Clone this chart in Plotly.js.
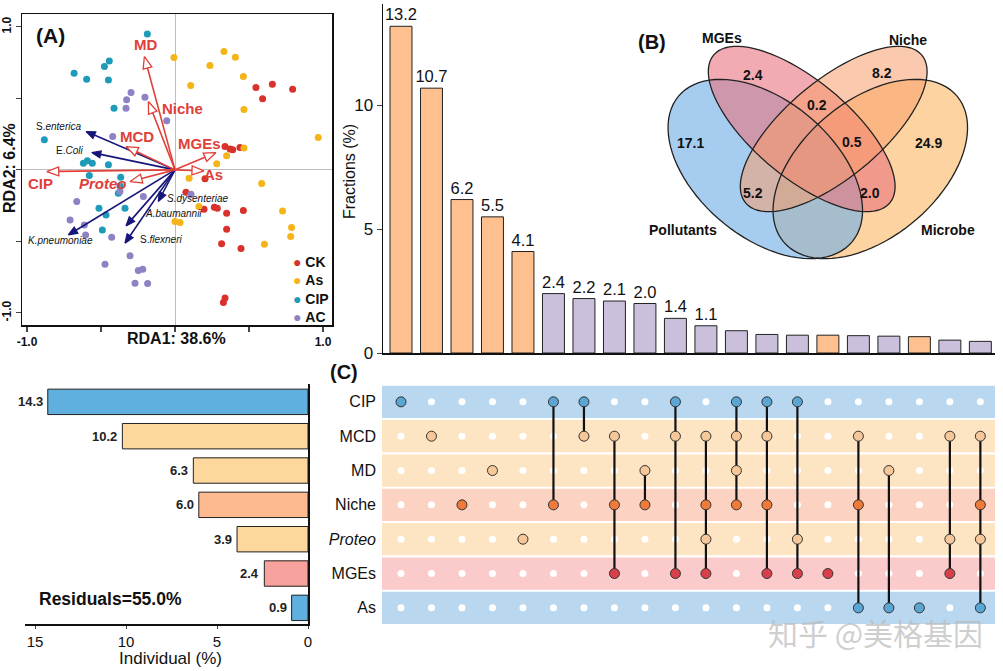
<!DOCTYPE html>
<html><head><meta charset="utf-8">
<script src="https://cdn.plot.ly/plotly-3.0.1.min.js"></script>
<style>html,body{margin:0;padding:0;background:#fff}#chart{width:1003px;height:671px}</style>
</head><body><div id="chart"></div>
<script>
// ================= DATA =================
// (A) RDA site scores
const ckX = [0.547,0.658,0.795,0.592,0.338,0.390,0.372,0.439,0.203,0.074,0.196,0.266,0.286,0.349,0.462,0.349,0.315,0.446,0.338,0.327];
const ckY = [0.576,0.599,0.564,0.497,0.163,0.140,0.145,0.156,-0.063,-0.156,-0.275,-0.261,-0.268,-0.303,-0.284,-0.415,-0.517,-0.550,-0.897,-0.928];
const asX = [-0.007,0.331,0.408,0.236,0.462,0.106,0.466,0.968,0.466,0.349,0.282,0.095,0.586,0.162,0.727,0.788,0.782,0.604,0.000,0.034];
const asY = [0.786,0.828,0.788,0.730,0.653,0.590,0.422,0.226,0.152,0.098,0.042,-0.058,-0.096,-0.256,-0.287,-0.403,-0.466,-0.520,-0.361,-0.368];
const cipX = [-0.187,-0.682,-0.597,-0.477,-0.444,-0.450,-0.412,-0.883,-0.619,-0.592,-0.559,-0.450,-0.579,-0.367,-0.383,-0.372,-0.514,-0.466,-0.338,-0.491];
const cipY = [0.951,0.676,0.634,0.723,0.762,0.629,0.431,0.210,0.047,0.063,0.047,0.035,-0.040,-0.051,-0.163,-0.112,-0.268,-0.315,-0.268,-0.420];
const acX = [-0.297,-0.327,-0.203,-0.331,-0.056,-0.421,-0.372,-0.214,0.108,-0.664,-0.709,-0.613,-0.604,-0.428,-0.304,-0.473,-0.248,-0.218,-0.270,-0.185];
const acY = [0.541,0.490,0.508,0.431,0.343,0.233,-0.152,-0.186,-0.170,-0.221,-0.350,-0.385,-0.455,-0.471,-0.601,-0.660,-0.704,-0.695,-0.793,-0.795];
const groupNames = ['CK','As','CIP','AC'];
// environmental / driver vectors
const envNames = ['MD','Niche','MCD','MGEs','As','CIP','<i>Proteo</i>'];
const envX = [-0.207,-0.180,-0.331,0.277,0.196,-0.867,-0.304];
const envY = [0.793,0.478,0.163,0.121,-0.007,-0.012,-0.082];
// pathogen vectors
const bacNames = ['S.<i>enterica</i>','E.<i>Coli</i>','<i>K.pneumoniae</i>','<i>A.baumannii</i>','S.<i>flexneri</i>','<i>S.dysenteriae</i>'];
const bacX = [-0.601,-0.563,-0.721,-0.331,-0.338,-0.113];
const bacY = [0.268,0.121,-0.455,-0.392,-0.513,-0.221];

// (C) upset data
const sets = ['CIP','MCD','MD','Niche','Proteo','MGEs','As'];
const setLabels = ['CIP','MCD','MD','Niche','<i>Proteo</i>','MGEs','As'];
const indivValues = [14.3,10.2,6.3,6.0,3.9,2.4,0.9];
const combos = [['CIP'],['MCD'],['Niche'],['MD'],['Proteo'],['CIP','Niche'],['CIP','MCD'],['MCD','Niche','MGEs'],['MD','Niche'],
  ['CIP','MCD','MGEs'],['MCD','Niche','Proteo','MGEs'],['CIP','MCD','MD','Niche'],['CIP','MCD','Niche','MGEs'],['CIP','Proteo','MGEs'],
  ['MGEs'],['MCD','Niche','As'],['MD','As'],['As'],['MCD','Proteo','MGEs'],['MCD','Niche','Proteo','As']];
const fracValues = [13.2,10.7,6.2,5.5,4.1,2.4,2.2,2.1,2.0,1.4,1.1,0.9,0.75,0.72,0.72,0.70,0.68,0.66,0.52,0.47];
const fracLabelCount = 11;
const residualText = 'Residuals=55.0%';

// (B) Venn
const vennSets = ['Pollutants','Microbe','MGEs','Niche'];
const vennValues = ['17.1','24.9','2.4','8.2','0.2','0.5','5.2','2.0'];

// ================= STYLE / LAYOUT =================
const W=1003,H=671;
const FONT='Liberation Sans, Arial, sans-serif';
const PX=x=>x/W, PY=y=>1-y/H;
const groupColors=['#d9312c','#f5b418','#1e9bb8','#8e82c5'];
const red='#e0403a', navy='#16167a';

// RDA geometry
const rda={x0:22,x1:332,y0:14,y1:325,xr:[-1.034,1.061],yr:[-1.085,1.09]};
const sx=(rda.x1-rda.x0)/(rda.xr[1]-rda.xr[0]);
const sy=(rda.y1-rda.y0)/(rda.yr[1]-rda.yr[0]);

const traces=[];
[[ckX,ckY],[asX,asY],[cipX,cipY],[acX,acY]].forEach((g,i)=>{
  traces.push({type:'scatter',mode:'markers',x:g[0],y:g[1],xaxis:'x',yaxis:'y',name:groupNames[i],showlegend:false,
    marker:{size:7,color:groupColors[i]},hoverinfo:'skip'});
});
function arrows(xs,ys,color,fill,hl,hw){
  xs.forEach((x,i)=>{
    const y=ys[i]; const px=x*sx, py=y*sy; const L=Math.hypot(px,py); const ux=px/L, uy=py/L;
    const bx=px-ux*hl, by=py-uy*hl; const nx=-uy, ny=ux;
    traces.push({type:'scatter',mode:'lines',x:[0,bx/sx],y:[0,by/sy],xaxis:'x',yaxis:'y',showlegend:false,
      line:{color:color,width:1.6},hoverinfo:'skip'});
    traces.push({type:'scatter',mode:'lines',x:[x,(bx+nx*hw)/sx,(bx-nx*hw)/sx,x],y:[y,(by+ny*hw)/sy,(by-ny*hw)/sy,y],
      xaxis:'x',yaxis:'y',showlegend:false,fill:'toself',fillcolor:fill,line:{color:color,width:1.3},hoverinfo:'skip'});
  });
}
arrows(bacX,bacY,navy,navy,9,3.5);
arrows(envX,envY,red,'#ffffff',12,4.5);

// Fractions bars
const nC=combos.length;
const idx=[...Array(nC).keys()];
const xr2=[-0.59,19.48];
traces.push({type:'bar',x:idx,y:fracValues,xaxis:'x2',yaxis:'y2',width:0.72,showlegend:false,
  marker:{color:combos.map(c=>c.length===1?'#fdc08e':'#cbc0dc'),line:{color:'#222',width:1}},
  text:fracValues.map((v,i)=>i<fracLabelCount?v.toFixed(1):''),textposition:'outside',cliponaxis:false,constraintext:'none',
  textfont:{family:FONT,size:16.5,color:'#111'},hoverinfo:'skip'});

// Individual bars
const indivColors=['#5fb0df','#fdd79c','#fdd79c','#fdba90','#fdd79c','#f8a29d','#5fb0df'];
traces.push({type:'bar',orientation:'h',y:sets.map((s,i)=>i),x:indivValues,xaxis:'x3',yaxis:'y3',width:0.74,showlegend:false,
  marker:{color:indivColors,line:{color:'#222',width:1}},hoverinfo:'skip'});

// Upset matrix
const dotColors=['#5aa5d3','#f5c799','#f5c799','#ef7b3a','#f5c799','#d7404a','#5aa5d3'];
const bandColors=['#b9d8ef','#fde4c3','#fde4c3','#fcd3c3','#fde4c3','#fbcaca','#b9d8ef'];
const wx=[],wy=[];
combos.forEach((c,ci)=>sets.forEach((s,ri)=>{if(!c.includes(s)){wx.push(ci);wy.push(ri);}}));
traces.push({type:'scatter',mode:'markers',x:wx,y:wy,xaxis:'x4',yaxis:'y4',showlegend:false,marker:{size:7,color:'#ffffff'},hoverinfo:'skip'});
const lx=[],ly=[];
combos.forEach((c,ci)=>{ if(c.length>1){const r=c.map(s=>sets.indexOf(s)); lx.push(ci,ci,null); ly.push(Math.min(...r),Math.max(...r),null);} });
traces.push({type:'scatter',mode:'lines',x:lx,y:ly,xaxis:'x4',yaxis:'y4',showlegend:false,line:{color:'#111',width:2.2},hoverinfo:'skip'});
const cx=[],cy=[],cc=[];
combos.forEach((c,ci)=>c.forEach(s=>{const r=sets.indexOf(s);cx.push(ci);cy.push(r);cc.push(dotColors[r]);}));
traces.push({type:'scatter',mode:'markers',x:cx,y:cy,xaxis:'x4',yaxis:'y4',showlegend:false,marker:{size:10,color:cc,line:{color:'#333',width:1}},hoverinfo:'skip'});

// Venn dummy trace
traces.push({type:'scatter',mode:'markers',x:[700],y:[150],xaxis:'x5',yaxis:'y5',showlegend:false,marker:{opacity:0},hoverinfo:'skip'});

const shapes=[];
sets.forEach((s,i)=>shapes.push({type:'rect',xref:'paper',yref:'y4',x0:PX(382),x1:PX(995),y0:i-0.47,y1:i+0.47,fillcolor:bandColors[i],line:{width:0},layer:'below'}));
function ellipsePath(cx,cy,a,b,deg){
  const t=deg*Math.PI/180; let d='';
  for(let k=0;k<=90;k++){const u=2*Math.PI*k/90;
    const x=cx+a*Math.cos(u)*Math.cos(t)-b*Math.sin(u)*Math.sin(t);
    const y=cy+a*Math.cos(u)*Math.sin(t)+b*Math.sin(u)*Math.cos(t);
    d+=(k?'L':'M')+x.toFixed(2)+','+y.toFixed(2);}
  return d+'Z';
}
// draw order: Microbe, Pollutants, MGEs, Niche
const vennGeo=[[870.3,169,113.3,68.3,-40,'#fbb862',0.6],[765.3,169,113.3,68.3,40,'#6faee6',0.62],
  [801.7,129,115,48.3,40,'#e9737f',0.6],[833.7,129,115,48.3,-40,'#f79d6c',0.55]];
vennGeo.forEach(g=>shapes.push({type:'path',xref:'x5',yref:'y5',path:ellipsePath(g[0],g[1],g[2],g[3],g[4]),fillcolor:g[5],opacity:g[6],line:{width:0}}));
vennGeo.forEach(g=>shapes.push({type:'path',xref:'x5',yref:'y5',path:ellipsePath(g[0],g[1],g[2],g[3],g[4]),line:{color:'#222',width:1.3}}));

const ann=[];
function pa(text,x,y,o){ann.push(Object.assign({text:text,xref:'paper',yref:'paper',x:PX(x),y:PY(y),xanchor:'center',yanchor:'middle',showarrow:false,font:{family:FONT,size:14,color:'#111'}},o||{}));}
pa('<b>(A)</b>',50,36,{font:{family:FONT,size:21,color:'#111'}});
pa('<b>(B)</b>',652,42,{font:{family:FONT,size:20,color:'#111'}});
pa('<b>(C)</b>',344,372,{font:{family:FONT,size:20,color:'#111'}});
pa('<b>RDA1: 38.6%</b>',176,339,{font:{family:FONT,size:16,color:'#111'}});
pa('<b>RDA2: 6.4%</b>',9,168,{textangle:-90,font:{family:FONT,size:16,color:'#111'}});
pa('Fractions (%)',350,172,{textangle:-90,font:{family:FONT,size:16,color:'#111'}});
pa('Individual (%)',170,658,{font:{family:FONT,size:17,color:'#111'}});
pa('<b>'+residualText+'</b>',110,599,{font:{family:FONT,size:17.5,color:'#111'}});
groupNames.forEach((g,i)=>pa('<span style="color:'+groupColors[i]+'">●</span> <b>'+g+'</b>',291,[262,280,299,317][i],{xanchor:'left',font:{family:FONT,size:14,color:'#111'}}));
pa('知乎 @美格基因',875,632,{font:{family:'Noto Sans CJK SC',size:30,color:'rgba(185,185,185,0.7)'}});
// individual bar value labels
indivValues.forEach((v,i)=>ann.push({text:v.toFixed(1),xref:'x3',yref:'y3',x:v,y:i,xanchor:'right',yanchor:'middle',xshift:-3,showarrow:false,
  font:{family:FONT,size:13,color:'#222',weight:'bold'}}));
// RDA vector labels
const envLab=[[-0.198,0.874],[0.052,0.431],[-0.259,0.233],[0.164,0.182],[0.259,-0.035],[-0.912,-0.093],[-0.484,-0.093]];
envNames.forEach((n,i)=>ann.push({text:'<b>'+n+'</b>',xref:'x',yref:'y',x:envLab[i][0],y:envLab[i][1],showarrow:false,font:{family:FONT,size:15,color:red}}));
const bacLab=[[-0.788,0.303],[-0.714,0.135],[-0.777,-0.494],[-0.011,-0.308],[-0.097,-0.49],[0.153,-0.203]];
bacNames.forEach((n,i)=>ann.push({text:n,xref:'x',yref:'y',x:bacLab[i][0],y:bacLab[i][1],showarrow:false,font:{family:FONT,size:10,color:'#111'}}));
// Venn labels
const vennLabPos=[[683,230],[948,230],[722,38],[908,40]];
vennSets.forEach((n,i)=>ann.push({text:'<b>'+n+'</b>',xref:'x5',yref:'y5',x:vennLabPos[i][0],y:vennLabPos[i][1],showarrow:false,font:{family:FONT,size:14,color:'#111'}}));
const vennValPos=[[690,143],[928,143],[753,75],[882,73],[817,105],[852,142],[753,193],[870,193]];
vennValues.forEach((v,i)=>ann.push({text:'<b>'+v+'</b>',xref:'x5',yref:'y5',x:vennValPos[i][0],y:vennValPos[i][1],showarrow:false,font:{family:FONT,size:14,color:'#111'}}));

const axLine={showline:true,linecolor:'#111',linewidth:1.5,showgrid:false,zeroline:false};
const layout={
  width:W,height:H,margin:{l:0,r:0,t:0,b:0},paper_bgcolor:'#fff',plot_bgcolor:'rgba(0,0,0,0)',
  font:{family:FONT,color:'#111'},showlegend:false,bargap:0,
  xaxis:Object.assign({},axLine,{domain:[PX(rda.x0),PX(rda.x1)],range:rda.xr,mirror:true,ticks:'outside',ticklen:5,tickwidth:1.2,
    tickvals:[-1,-0.5,0,0.5,1],ticktext:['-1.0','','','','1.0'],tickfont:{family:FONT,size:12,weight:'bold'},
    zeroline:true,zerolinecolor:'#bdbdbd',zerolinewidth:1,anchor:'y'}),
  yaxis:Object.assign({},axLine,{domain:[PY(rda.y1),PY(rda.y0)],range:rda.yr,mirror:true,ticks:'outside',ticklen:5,tickwidth:1.2,
    tickvals:[-1,-0.5,0,0.5,1],ticktext:['-1.0','','','','1.0'],tickangle:-90,tickfont:{family:FONT,size:12,weight:'bold'},
    zeroline:true,zerolinecolor:'#bdbdbd',zerolinewidth:1,anchor:'x'}),
  xaxis2:Object.assign({},axLine,{domain:[PX(383),PX(995)],range:xr2,showticklabels:false,ticks:'',anchor:'y2'}),
  yaxis2:Object.assign({},axLine,{domain:[PY(353),PY(4)],range:[0,14.1],tickvals:[0,5,10],ticks:'outside',ticklen:5,
    tickfont:{family:FONT,size:17},anchor:'x2'}),
  xaxis3:Object.assign({},axLine,{domain:[PX(25),PX(308)],range:[15.55,0],tickvals:[15,10,5,0],ticks:'outside',ticklen:3,
    tickfont:{family:FONT,size:15},anchor:'y3'}),
  yaxis3:Object.assign({},axLine,{domain:[PY(624),PY(384)],range:[6.47,-0.52],side:'right',showticklabels:false,ticks:'',anchor:'x3'}),
  xaxis4:{domain:[PX(383),PX(995)],range:xr2,visible:false,anchor:'y4'},
  yaxis4:{domain:[PY(624),PY(384)],range:[6.47,-0.52],showline:false,showgrid:false,zeroline:false,ticks:'',
    tickvals:[0,1,2,3,4,5,6],ticktext:setLabels,tickfont:{family:FONT,size:16,color:'#111'},ticklabelstandoff:6,anchor:'x4'},
  xaxis5:{domain:[PX(600),1],range:[600,1003],visible:false,anchor:'y5'},
  yaxis5:{domain:[PY(300),1],range:[300,0],visible:false,anchor:'x5'},
  shapes:shapes,annotations:ann
};
Plotly.newPlot('chart',traces,layout,{staticPlot:true,displayModeBar:false});
</script></body></html>
